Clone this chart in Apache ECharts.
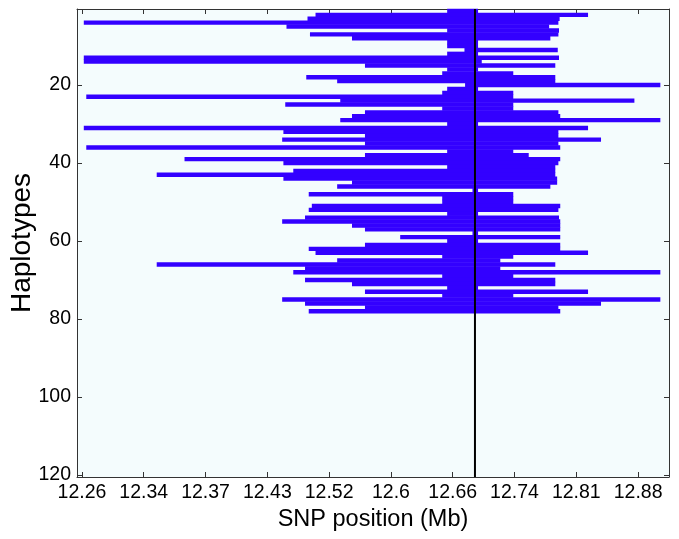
<!DOCTYPE html>
<html>
<head>
<meta charset="utf-8">
<script src="https://cdn.jsdelivr.net/npm/echarts@6/dist/echarts.min.js"></script>
<style>
html,body{margin:0;padding:0;background:#ffffff;}
#chart{width:679px;height:539px;}
</style>
</head>
<body>
<div id="chart"></div>
<script>
// x axis is indexed by tick position; tick k carries the SNP position label tickLabels[k]
const tickLabels = ['12.26','12.34','12.37','12.43','12.52','12.6','12.66','12.74','12.81','12.88'];
const tickPositions = [0,1,2,3,4,5,6,7,8,9];
const yTickValues = [20,40,60,80,100,120];
const coreSnp = 6.36;

const haplotypes = [1,2,3,4,5,6,7,8,9,10,11,12,13,14,15,16,17,18,19,20,
  21,22,23,24,25,26,27,28,29,30,31,32,33,34,35,36,37,38,39,40,
  41,42,43,44,45,46,47,48,49,50,51,52,53,54,55,56,57,58,59,60,
  61,62,63,64,65,66,67,68,69,70,71,72,73,74,75,76,77,78];

const leftEnd = [5.91,3.78,3.65,0.03,3.31,5.91,3.69,4.37,5.91,5.91,
  6.19,5.91,0.03,0.03,4.58,5.91,5.83,3.63,4.13,6.20,
  5.91,5.83,0.07,4.18,3.29,5.83,4.58,4.37,4.18,5.91,
  0.03,3.26,4.58,3.24,4.58,0.07,5.91,4.58,1.66,3.26,
  5.91,3.42,1.21,3.26,4.37,4.13,6.32,3.67,5.83,5.83,
  3.72,3.67,5.91,3.61,3.24,4.37,4.58,6.32,5.15,5.91,
  4.58,3.67,3.78,5.83,4.13,1.21,3.61,3.42,5.83,3.61,
  4.37,5.91,4.58,5.83,3.24,3.61,4.58,3.67];

const rightEnd = [6.41,8.19,7.73,7.71,7.56,7.72,7.71,7.58,6.41,6.41,
  7.70,6.41,7.72,6.47,7.66,6.41,6.98,7.66,7.66,9.36,
  6.41,6.98,6.98,8.94,6.98,6.98,7.71,7.74,9.36,6.41,
  8.19,7.71,7.71,8.40,7.71,7.74,6.98,7.23,7.74,7.71,
  7.66,7.66,7.66,7.69,7.69,7.58,6.41,6.98,6.98,6.98,
  7.74,7.71,6.41,7.72,7.74,7.74,7.74,6.41,7.74,6.41,
  7.74,7.74,8.19,6.98,6.77,7.66,6.77,9.36,6.98,7.66,
  7.66,6.41,8.19,6.98,9.36,8.40,7.71,7.74];

const segData = haplotypes.map((h, i) => [h, leftEnd[i], rightEnd[i]]);

const FONT = "'Liberation Sans', Arial, Helvetica, sans-serif";
const AXIS_COLOR = '#333333';
const X_MIN = -0.08, X_MAX = 9.5, Y_MIN = 0.5, Y_MAX = 120.5;

const chart = echarts.init(document.getElementById('chart'), null, {renderer: 'canvas'});

function renderSeg(params, api) {
  const r = api.value(0);
  const p1 = api.coord([api.value(1), r - 0.5]);
  const p2 = api.coord([api.value(2), r + 0.5]);
  const y0 = Math.min(p1[1], p2[1]);
  const h = Math.abs(p2[1] - p1[1]);
  return {
    type: 'rect',
    shape: {x: p1[0], y: y0 - 0.25, width: p2[0] - p1[0], height: h + 0.5},
    style: {fill: '#3300ff', stroke: null}
  };
}

const xAxisBase = {
  type: 'value', min: X_MIN, max: X_MAX,
  axisLine: {show: true, onZero: false, lineStyle: {color: AXIS_COLOR, width: 1}},
  axisTick: {show: true, inside: true, length: 5, customValues: tickPositions, lineStyle: {color: AXIS_COLOR}},
  splitLine: {show: false}
};
const yAxisBase = {
  type: 'value', min: Y_MIN, max: Y_MAX, inverse: true,
  axisLine: {show: true, onZero: false, lineStyle: {color: AXIS_COLOR, width: 1}},
  axisTick: {show: true, inside: true, length: 5, customValues: yTickValues, lineStyle: {color: AXIS_COLOR}},
  splitLine: {show: false}
};

chart.setOption({
  animation: false,
  backgroundColor: '#ffffff',
  grid: {left: 77, right: 10, top: 9, bottom: 62, show: true, backgroundColor: '#f4fcfd',
         borderWidth: 0, containLabel: false, outerBoundsMode: 'none'},
  xAxis: [
    Object.assign({}, xAxisBase, {
      position: 'bottom',
      axisLabel: {show: true, customValues: tickPositions, margin: 6, fontSize: 19.5, color: '#000',
                  fontFamily: FONT, formatter: v => tickLabels[Math.round(v)]},
      name: 'SNP position (Mb)', nameLocation: 'middle', nameGap: 31, nameMoveOverlap: false,
      nameTextStyle: {fontSize: 23.5, color: '#000', fontFamily: FONT}
    }),
    Object.assign({}, xAxisBase, {position: 'top', axisLabel: {show: false}})
  ],
  yAxis: [
    Object.assign({}, yAxisBase, {
      position: 'left',
      axisLabel: {show: true, customValues: yTickValues, margin: 6, fontSize: 19.5, color: '#000', fontFamily: FONT},
      name: 'Haplotypes', nameLocation: 'middle', nameGap: 41, nameRotate: 90, nameMoveOverlap: false,
      nameTextStyle: {fontSize: 28, color: '#000', fontFamily: FONT}
    }),
    Object.assign({}, yAxisBase, {position: 'right', axisLabel: {show: false}})
  ],
  series: [
    {
      type: 'custom', xAxisIndex: 0, yAxisIndex: 0,
      renderItem: renderSeg,
      encode: {x: [1, 2], y: 0},
      data: segData, silent: true, z: 2
    },
    {
      type: 'line', xAxisIndex: 0, yAxisIndex: 0,
      data: [[coreSnp, Y_MIN], [coreSnp, Y_MAX]],
      symbol: 'none', silent: true, z: 5,
      lineStyle: {color: '#000000', width: 2}
    }
  ]
});
</script>
</body>
</html>
